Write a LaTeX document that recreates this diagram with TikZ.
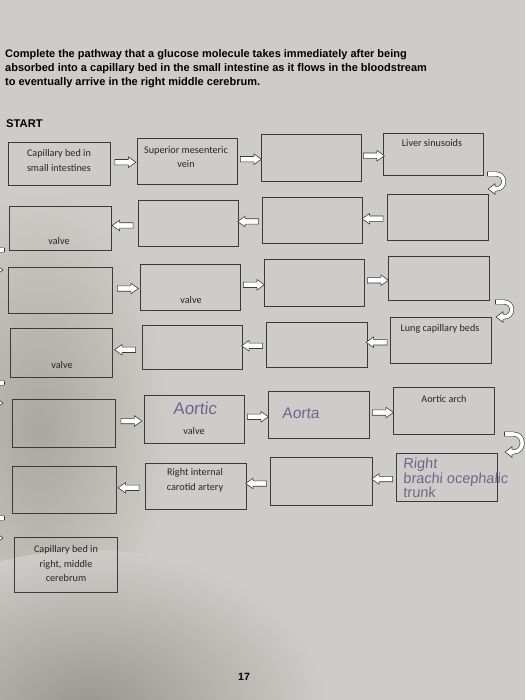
\documentclass[tikz,border=0pt]{standalone}
\usepackage{fontspec}
\setmainfont{Liberation Sans}
\newfontfamily\boxfont{Carlito}
\newfontfamily\handfont{Liberation Sans}[FakeSlant=0.08]
\usetikzlibrary{shapes.arrows,calc}
\definecolor{paper}{RGB}{206,204,200}
\definecolor{shadowc}{RGB}{170,167,162}
\definecolor{ink}{RGB}{58,58,58}
\definecolor{pen}{RGB}{112,100,140}
\tikzset{
  box/.style={draw=ink, line width=0.8pt, minimum width=101pt, inner sep=0pt},
  lbl/.style={font=\boxfont\fontsize{10.2}{14.5}\selectfont, text=black!85, align=center, inner sep=0pt},
  rarr/.style={single arrow, draw=ink, fill=white, line width=0.6pt, minimum height=21pt,
    minimum width=0pt, single arrow head extend=2.6pt, inner sep=2.4pt,
    single arrow tip angle=70, anchor=center},
  larr/.style={rarr, shape border rotate=180},
  hand/.style={font=\handfont\fontsize{14.5}{13.5}\selectfont, text=pen, inner sep=0pt, anchor=west, align=left},
  ushaft/.style={draw=ink, line width=0.6pt, double=white, double distance=3.6pt},
  uhead/.style={fill=white, draw=ink, line width=0.6pt},
}
% U-turn arrow: #1 = origin, #2 = xscale (1 or -1), #3 = vertical gap
\newcommand{\myuturn}[3]{%
  \begin{scope}[shift={#1}, xscale=#2]
    \draw[ushaft] (0,0) -- (9,0) to[out=0,in=0,looseness=1.75] (9,#3) -- (7.5,#3);
    \draw[draw=ink, line width=0.6pt] (0,-2.4) -- (0,2.4);
    \filldraw[uhead] (8,#3-2.4) -- (8,#3-5.2) -- (1,#3) -- (8,#3+5.2) -- (8,#3+2.4);
  \end{scope}}
\begin{document}
\begin{tikzpicture}[x=1pt,y=-1pt]
\useasboundingbox (0,0) rectangle (525,700);
\clip (0,0) rectangle (525,700);
\fill[paper] (0,0) rectangle (525,700);
% photographic shadows
\shade[inner color=shadowc, outer color=paper] (40,430) ellipse (130 and 240);
\shade[inner color=shadowc!90!black, outer color=paper] (90,710) ellipse (240 and 160);

% title
\node[anchor=north west, align=left, inner sep=0pt,
  font=\bfseries\fontsize{11}{14}\selectfont] (title) at (5,49)
  {Complete the pathway that a glucose molecule takes immediately after being\\
   absorbed into a capillary bed in the small intestine as it flows in the bloodstream\\
   to eventually arrive in the right middle cerebrum.};
\node[anchor=west, inner sep=0pt, font=\bfseries\fontsize{11.2}{12}\selectfont] (start) at (6,124) {START};

% row 1
\node[box, minimum width=102pt, minimum height=43pt] (A) at (59,163.5) {};
\node[box, minimum width=100pt, minimum height=46pt] (B) at (187,161) {};
\node[box, minimum width=100pt, minimum height=47pt] (C) at (311,157.5) {};
\node[box, minimum width=100pt, minimum height=42pt] (D) at (433,154) {};
% row 2
\node[box, minimum width=101pt, minimum height=46pt] (E) at (437.5,217.5) {};
\node[box, minimum width=100pt, minimum height=46pt] (F) at (312,220) {};
\node[box, minimum width=100pt, minimum height=46pt] (G) at (188,223) {};
\node[box, minimum width=102pt, minimum height=44pt] (H) at (60,228) {};
% row 3
\node[box, minimum width=104pt, minimum height=46pt] (I) at (60,290) {};
\node[box, minimum width=100pt, minimum height=46pt] (J) at (190,287) {};
\node[box, minimum width=100pt, minimum height=47pt] (K) at (314,282.5) {};
\node[box, minimum width=101pt, minimum height=44pt] (L) at (438.5,278) {};
% row 4
\node[box, minimum width=101pt, minimum height=46pt] (M) at (440.5,340) {};
\node[box, minimum width=101pt, minimum height=45pt] (N) at (316.5,344.5) {};
\node[box, minimum width=100pt, minimum height=44pt] (O) at (192,347) {};
\node[box, minimum width=102pt, minimum height=49pt] (P) at (61,352.5) {};
% row 5
\node[box, minimum width=103pt, minimum height=48pt] (Q) at (63.5,423) {};
\node[box, minimum width=100pt, minimum height=48pt] (R) at (194,419) {};
\node[box, minimum width=101pt, minimum height=47pt] (S) at (318.5,414.5) {};
\node[box, minimum width=101pt, minimum height=47pt] (T) at (443.5,410.5) {};
% row 6
\node[box, minimum width=101pt, minimum height=48pt] (U) at (446.5,477) {};
\node[box, minimum width=102pt, minimum height=48pt] (V) at (321,481) {};
\node[box, minimum width=101pt, minimum height=46pt] (W) at (195.5,486) {};
\node[box, minimum width=104pt, minimum height=47pt] (X) at (64,489.5) {};
% row 7
\node[box, minimum width=103pt, minimum height=55pt] (Y) at (65.5,564.5) {};

% printed labels
\node[lbl] (tA) at (59,160.5) {Capillary bed in\\small intestines};
\node[lbl] (tB) at (186,157) {Superior mesenteric\\vein};
\node[lbl] (tD) at (432,143) {Liver sinusoids};
\node[lbl] (tH) at (59,241) {valve};
\node[lbl] (tJ) at (191,300) {valve};
\node[lbl] (tM) at (440,329) {Lung capillary beds};
\node[lbl] (tP) at (62,365) {valve};
\node[lbl] (tR) at (194,431) {valve};
\node[lbl] (tT) at (444,399) {Aortic arch};
\node[lbl] (tW) at (195,480.5) {Right internal\\carotid artery};
\node[lbl] (tY) at (66,563.5) {Capillary bed in\\right, middle\\cerebrum};

% handwritten answers
\node[hand, font=\handfont\fontsize{17}{17}\selectfont] (hR) at (173,408) {Aortic};
\node[hand, font=\handfont\fontsize{15.5}{15.5}\selectfont] (hS) at (282,413) {Aorta};
\node[hand] (hU) at (403,478) {Right\\brachi ocephalic\\trunk};

% straight block arrows
\path (A.east) -- (B.west) node[rarr, midway] (a1) {};
\path (B.east) -- (C.west) node[rarr, midway] (a2) {};
\path (C.east) -- (D.west) node[rarr, midway] (a3) {};
\path (E.west) -- (F.east) node[larr, midway] (a4) {};
\path (F.west) -- (G.east) node[larr, midway] (a5) {};
\path (G.west) -- (H.east) node[larr, midway] (a6) {};
\path (I.east) -- (J.west) node[rarr, midway] (a7) {};
\path (J.east) -- (K.west) node[rarr, midway] (a8) {};
\path (K.east) -- (L.west) node[rarr, midway] (a9) {};
\path (M.west) -- (N.east) node[larr, midway] (a10) {};
\path (N.west) -- (O.east) node[larr, midway] (a11) {};
\path (O.west) -- (P.east) node[larr, midway] (a12) {};
\path (Q.east) -- (R.west) node[rarr, midway] (a13) {};
\path (R.east) -- (S.west) node[rarr, midway] (a14) {};
\path (S.east) -- (T.west) node[rarr, midway] (a15) {};
\path (U.west) -- (V.east) node[larr, midway] (a16) {};
\path (V.west) -- (W.east) node[larr, midway] (a17) {};
\path (W.west) -- (X.east) node[larr, midway] (a18) {};

% U-turn arrows (right side)
\myuturn{(487,174)}{1}{15}
\myuturn{(495,302)}{1}{15}
\myuturn{(504,434)}{1}{18}
% U-turn arrows (left edge, mostly off the page)
\myuturn{(4,250)}{-1}{20}
\myuturn{(4,383)}{-1}{20}
\myuturn{(4,518)}{-1}{20}

% page number
\node[inner sep=0pt, font=\bfseries\fontsize{10.5}{11}\selectfont] (page) at (244,677) {17};
\end{tikzpicture}
\end{document}
